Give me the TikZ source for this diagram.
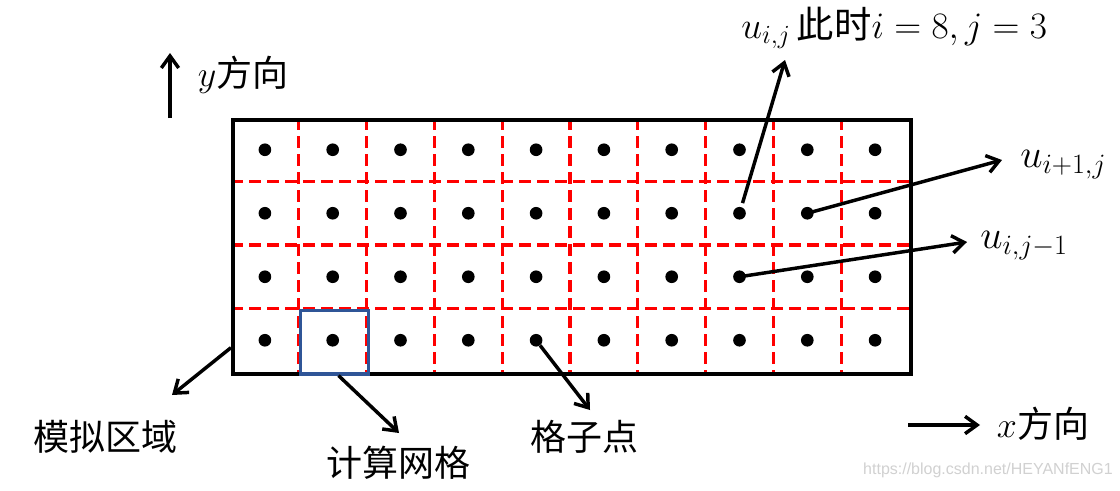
\documentclass[tikz,border=0pt]{standalone}
\usepackage{fix-cm}
\usepackage{fontspec}
\newfontfamily\cjk{Noto Sans CJK SC}
\newfontfamily\wmfont{Liberation Sans}
\usetikzlibrary{arrows.meta,calc}
\definecolor{gridred}{RGB}{255,0,0}
\definecolor{cellblue}{RGB}{47,85,151}
\begin{document}
\begin{tikzpicture}[x=0.75pt,y=-0.75pt,
  arr/.style={line width=2.6pt,-{Straight Barb[length=9pt,width=13pt]}},
  dot/.style={circle,fill=black,inner sep=0pt,minimum size=9.5pt},
  lbl/.style={font=\cjk\fontsize{27}{30}\selectfont,inner sep=0pt},
  mlbl/.style={font=\cjk\fontsize{28}{32}\selectfont,inner sep=0pt},
  slbl/.style={font=\cjk\fontsize{30}{32}\selectfont,inner sep=0pt},
  reddash/.style={gridred,line width=2.3pt,dash pattern=on 9pt off 4.5pt}]
\useasboundingbox (0,0) rectangle (1120,490);
\fill[white] (0,0) rectangle (1120,490);
% red dashed grid
\foreach \c in {1,...,9} \draw[reddash] ({231+67.8*\c},118) -- ({231+67.8*\c},374);
\foreach \r in {1,2,3} \draw[reddash] (231,{118+63.5*\r}) -- (909,{118+63.5*\r});
% domain
\node[draw,line width=3pt,minimum width=508.5pt,minimum height=190.5pt,inner sep=0pt,anchor=north west] (dom) at (231,118) {};
% computing cell
\node[draw=cellblue,line width=2.7pt,minimum width=50.85pt,minimum height=47.6pt,inner sep=0pt,anchor=north west] (cell) at (298.8,308.5) {};
% lattice points
\foreach \c in {0,...,9} \foreach \r in {0,...,3}
  \node[dot] (d-\c-\r) at ({231+67.8*(\c+0.5)},{118+63.5*(\r+0.5)}) {};
% labels
\node[mlbl,anchor=base west] (lu) at (741,38) {$u_{i,j}$\,此时$i=8,j=3$};
\node[slbl,anchor=base west] (lu1) at (1020,167) {$u_{i+1,j}$};
\node[slbl,anchor=base west] (lu2) at (980,248) {$u_{i,j-1}$};
\node[lbl] (lsim) at (105,437) {模拟区域};
\node[lbl] (lgrid) at (398,463) {计算网格};
\node[lbl] (lpt) at (584,437) {格子点};
\node[lbl] (lx) at (1043,424) {$x$方向};
\node[lbl] (ly) at (243,75) {$y$方向};
\node[font=\wmfont\fontsize{12}{14}\selectfont,text=black!18,inner sep=0pt] (wm) at (988,470) {https://blog.csdn.net/HEYANfENG1};
% arrow tips
\coordinate (tA) at (785,60);
\coordinate (tB) at (1002,160);
\coordinate (tC) at (967,242);
\coordinate (tD) at (172,395);
\coordinate (tE) at (399,433);
\coordinate (tF) at (590,410);
\coordinate (xs) at (908,425);
\coordinate (xe) at (980,425);
\coordinate (ys) at (170,118);
\coordinate (ye) at (170,53);
% connectors
\draw[arr,shorten <=3pt] (d-7-1) -- (tA);
\draw[arr] (d-8-1.center) -- (tB);
\draw[arr] (d-7-2.center) -- (tC);
\draw[arr] ($(dom.south west)!0.11!(dom.north west)$) -- (tD);
\draw[arr] ($(cell.south)+(4,0)$) -- (tE);
\draw[arr] (d-4-3) -- (tF);
\draw[arr] (xs) -- (xe);
\draw[arr] (ys) -- (ye);
\end{tikzpicture}
\end{document}
